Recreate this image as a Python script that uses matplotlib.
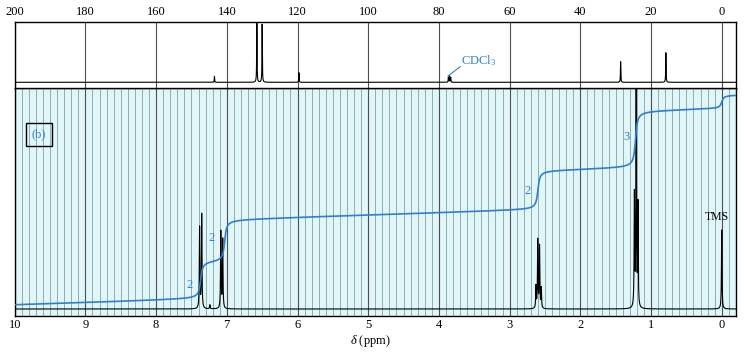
import numpy as np
import matplotlib
matplotlib.use('Agg')
import matplotlib.pyplot as plt

plt.rcParams['font.family'] = ['Liberation Serif', 'DejaVu Serif']
plt.rcParams['mathtext.fontset'] = 'custom'
plt.rcParams['mathtext.rm'] = 'Liberation Serif'
plt.rcParams['mathtext.it'] = 'Liberation Serif:italic'

# ---------------- data ----------------
# 13C spectrum (top panel): shifts (ppm) and peak heights
c13_shift = [143.5, 131.5, 130.0, 119.6, 77.32, 77.0, 76.68, 28.6, 15.8]
c13_height = [6, 62, 58, 9.6, 5, 6, 5, 20.6, 29.6]
c13_ticks = [200, 180, 160, 140, 120, 100, 80, 60, 40, 20, 0]

# 1H spectrum (bottom panel): line shifts (ppm) and heights
h1_shift = [7.385, 7.355, 7.24, 7.085, 7.058,
            2.627, 2.602, 2.577, 2.552,
            1.235, 1.21, 1.185, 0.0]
h1_height = [81, 94, 4, 77, 69,
             22, 68, 62, 20,
             112, 217, 102, 79]
h1_ticks = [10, 9, 8, 7, 6, 5, 4, 3, 2, 1, 0]

# integral trace: step centres, step sizes, start level, drift per ppm
int_centers = [7.37, 7.03, 2.60, 1.22, 0.0]
int_steps = [37, 42, 39, 57, 13]
int_start = 11
int_drift = 2.2

# integration labels
int_labels = ['2', '2', '2', '3']
int_label_x = [7.52, 7.21, 2.74, 1.34]
int_label_y = [31, 78, 125, 179]

BLUE = '#2f7fd0'
W, H = 746, 354

fig = plt.figure(figsize=(W / 100, H / 100), dpi=100)
left = 14.7 / W
width = (735.5 - 14.7) / W
ax = fig.add_axes([left, (H - 316) / H, width, (316 - 88.3) / H])
axt = fig.add_axes([left, (H - 88.3) / H, width, 66 / H])

# ---------------- bottom panel (1H) ----------------
ax.set_facecolor('#e0f6f8')
ax.set_xlim(10, -0.195)
ax.set_ylim(0, 227.7)
for v in np.arange(0, 101) / 10.0:
    if abs(v - round(v)) < 1e-6:
        ax.axvline(v, color='#505050', lw=0.8, zorder=1)
    else:
        ax.axvline(v, color='#86a2a4', lw=0.6, zorder=1)
ax.axvline(-0.1, color='#86a2a4', lw=0.6, zorder=1)

x = np.linspace(10.0, -0.2, 40000)
gam = 0.0045
spec = np.full_like(x, 7.0)
for s, h in zip(h1_shift, h1_height):
    spec += h * gam ** 2 / ((x - s) ** 2 + gam ** 2)
ax.plot(x, spec, color='black', lw=0.8, zorder=3)

integ = int_start + int_drift * (10 - x)
wi = 0.02
for c, st in zip(int_centers, int_steps):
    integ += st * (0.5 + np.arctan((c - x) / wi) / np.pi)
ax.plot(x, integ, color=BLUE, lw=1.2, zorder=4)

for lab, lx, ly in zip(int_labels, int_label_x, int_label_y):
    ax.text(lx, ly, lab, color=BLUE, fontsize=9, ha='center', va='center', zorder=5)
ax.text(0.07, 99, 'TMS', color='black', fontsize=8.5, ha='center', va='center', zorder=5)
fig.text(39 / W, 1 - 134.5 / H, '(b)', color=BLUE, fontsize=9, ha='center', va='center',
         bbox=dict(boxstyle='square,pad=0.45', fc='none', ec='black', lw=1))

ax.set_xticks(h1_ticks)
ax.set_xticklabels([str(t) for t in h1_ticks])
ax.tick_params(axis='x', length=0, pad=2, labelsize=9)
ax.set_yticks([])
for sp in ax.spines.values():
    sp.set_linewidth(1.0)
fig.text(370 / W, 1 - 341 / H, r'$\it{\delta}$ (ppm)', fontsize=9, ha='center', va='center')

# ---------------- top panel (13C) ----------------
axt.set_xlim(200, -3.9)
axt.set_ylim(-6, 60)
for t in c13_ticks:
    axt.axvline(t, color='#505050', lw=0.8, zorder=1)
xc = np.linspace(200, -4, 40000)
gc = 0.06
cspec = np.zeros_like(xc)
for s, h in zip(c13_shift, c13_height):
    cspec += h * gc ** 2 / ((xc - s) ** 2 + gc ** 2)
axt.plot(xc, cspec, color='black', lw=0.8, zorder=3)
axt.plot([77.4, 74.0], [6.3, 15.6], color=BLUE, lw=0.8)
axt.text(73.7, 22, r'CDCl$_3$', color=BLUE, fontsize=9, ha='left', va='center')
axt.set_yticks([])
axt.xaxis.tick_top()
axt.set_xticks(c13_ticks)
axt.set_xticklabels([str(t) for t in c13_ticks])
axt.tick_params(axis='x', length=0, pad=3, labelsize=9)
for sp in axt.spines.values():
    sp.set_linewidth(1.0)

fig.savefig('out.png', dpi=100)
